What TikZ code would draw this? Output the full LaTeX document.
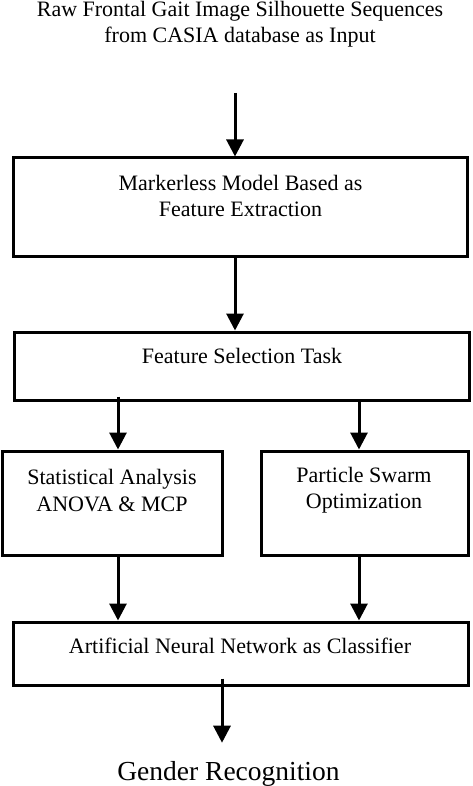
\documentclass[tikz,border=0pt]{standalone}
\usepackage{fontspec}
\setmainfont{Liberation Serif}
\usetikzlibrary{positioning,arrows.meta}

\begin{document}
\begin{tikzpicture}[
   x=1pt,y=-1pt,
   stage/.style={draw,line width=3pt,minimum width=#1,inner sep=0pt},
   caption/.style={align=center,inner sep=0pt,font=\fontsize{22}{26.5}\selectfont},
   flow/.style={-{Triangle[length=17pt,width=17pt]},line width=3pt},
]
\useasboundingbox (0,0) rectangle (472,786);

\node[caption,anchor=base] (input) at (240,43)
   {Raw Frontal Gait Image Silhouette Sequences\\from CASIA database as Input};

\node[stage=454pt,minimum height=98pt] (fe) at (240,207) {};
\node[stage=455pt,minimum height=68pt] (fs) at (241.5,366) {};
\node[stage=220pt,minimum height=104pt] (sa) at (112,503) {};
\node[stage=207pt,minimum height=104pt] (pso) at (364.5,503) {};
\node[stage=455pt,minimum height=63pt] (ann) at (240.5,653.5) {};

\node[caption,anchor=base] (feText) at (240.5,217) {Markerless Model Based as\\Feature Extraction};
\node[caption,anchor=base] (fsText) at (242,363) {Feature Selection Task};
\node[caption,anchor=base] (saText) at (112,511) {Statistical Analysis\\ANOVA \& MCP};
\node[caption,anchor=base] (psoText) at (364,508.5) {Particle Swarm\\Optimization};
\node[caption,anchor=base] (annText) at (240,653) {Artificial Neural Network as Classifier};

\node[inner sep=0pt,anchor=base,font=\fontsize{27.5}{33}\selectfont] (gender) at (228.5,780) {Gender Recognition};

\coordinate (feed) at (235,93);
\coordinate (lx) at (118,0);
\coordinate (rx) at (359,0);
\coordinate (ox) at (222,0);

\draw[flow] (feed) -- (feed |- fe.north);
\draw[flow] (fe.south -| feed) -- (fs.north -| feed);
\draw[flow,shorten <=-5pt] (fs.south -| lx) -- (sa.north -| lx);
\draw[flow] (fs.south -| rx) -- (pso.north -| rx);
\draw[flow] (sa.south -| lx) -- (ann.north -| lx);
\draw[flow] (pso.south -| rx) -- (ann.north -| rx);
\draw[flow,shorten <=-8pt,shorten >=18pt] (ann.south -| ox) -- (gender.north -| ox);
\end{tikzpicture}
\end{document}
